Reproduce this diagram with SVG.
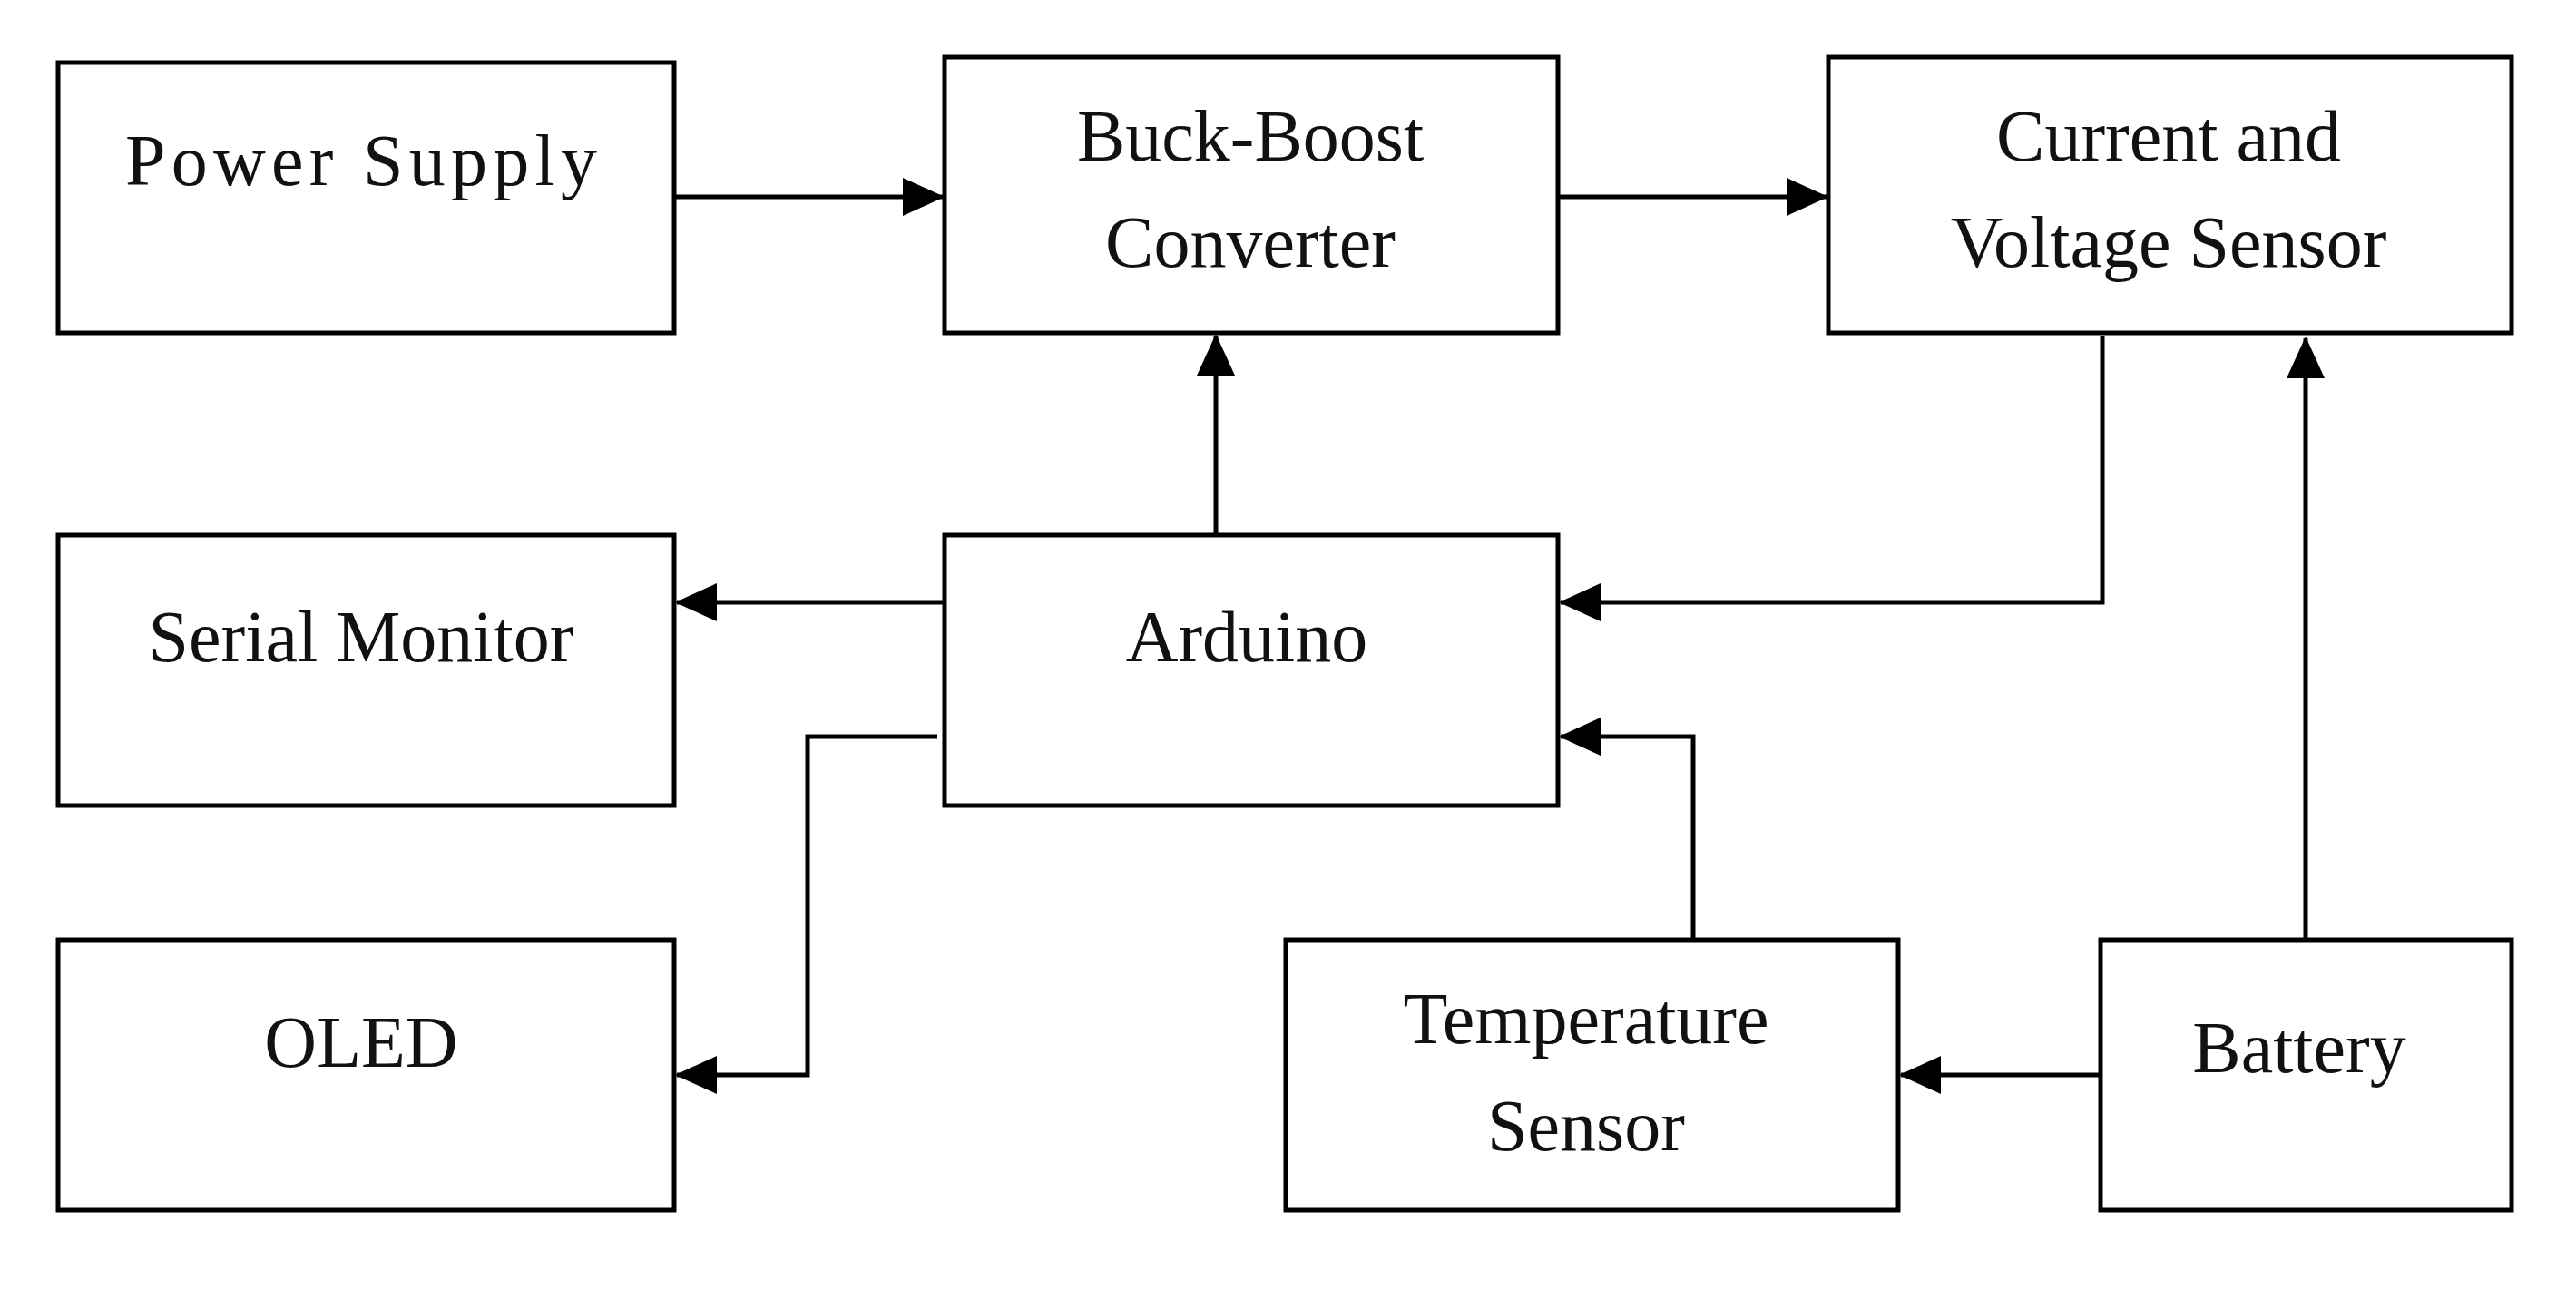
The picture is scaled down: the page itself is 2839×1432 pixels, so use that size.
<svg xmlns="http://www.w3.org/2000/svg" width="2839" height="1432" viewBox="0 0 2839 1432">
<style>
.box{fill:#fff;stroke:#000;stroke-width:5}
.t{font-family:"Liberation Serif","DejaVu Serif",serif;font-size:80px;fill:#111;text-anchor:middle}
.c{fill:none;stroke:#000;stroke-width:5}
</style>
<defs><marker id="a" markerUnits="userSpaceOnUse" markerWidth="46" markerHeight="42" refX="44" refY="21" orient="auto"><path d="M0,0 L46,21 L0,42 Z" fill="#000"/></marker></defs>
<rect width="2839" height="1432" fill="#fff"/>
<g id="power"><rect class="box" x="64" y="69" width="679" height="298"/><text class="t" x="398" y="204" textLength="520">Power Supply</text></g>
<g id="buck"><rect class="box" x="1041" y="63" width="676" height="304"/><text class="t" x="1378" y="177">Buck-Boost</text><text class="t" x="1378" y="294">Converter</text></g>
<g id="cvs"><rect class="box" x="2015" y="63" width="753" height="304"/><text class="t" x="2390" y="177">Current and</text><text class="t" x="2390" y="294">Voltage Sensor</text></g>
<g id="serial"><rect class="box" x="64" y="590" width="679" height="298"/><text class="t" x="398" y="729">Serial Monitor</text></g>
<g id="arduino"><rect class="box" x="1041" y="590" width="676" height="298"/><text class="t" x="1374" y="729">Arduino</text></g>
<g id="oled"><rect class="box" x="64" y="1036" width="679" height="298"/><text class="t" x="398" y="1176">OLED</text></g>
<g id="temp"><rect class="box" x="1417" y="1036" width="675" height="298"/><text class="t" x="1748" y="1150">Temperature</text><text class="t" x="1748" y="1268">Sensor</text></g>
<g id="battery"><rect class="box" x="2315" y="1036" width="453" height="298"/><text class="t" x="2534" y="1182">Battery</text></g>
<g id="connectors">
<path class="c" d="M743,217 H1039" marker-end="url(#a)"/>
<path class="c" d="M1717,217 H2013" marker-end="url(#a)"/>
<path class="c" d="M1340,590 V370" marker-end="url(#a)"/>
<path class="c" d="M1041,664 H746" marker-end="url(#a)"/>
<path class="c" d="M1033,812 H890 V1185 H746" marker-end="url(#a)"/>
<path class="c" d="M2317,370 V664 H1720" marker-end="url(#a)"/>
<path class="c" d="M1866,1036 V812 H1720" marker-end="url(#a)"/>
<path class="c" d="M2541,1036 V373" marker-end="url(#a)"/>
<path class="c" d="M2315,1185 H2095" marker-end="url(#a)"/>
</g>
</svg>
